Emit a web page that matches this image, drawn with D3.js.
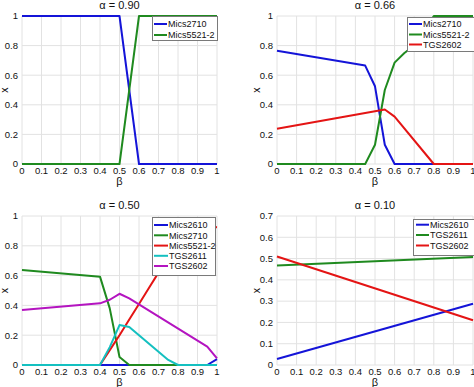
<!DOCTYPE html>
<html><head><meta charset="utf-8">
<script src="https://cdn.jsdelivr.net/npm/d3@7"></script>
<style>body{margin:0;background:#fff}svg{display:block}text{font-family:"Liberation Sans",Arial,sans-serif}</style>
</head><body>
<svg id="c" width="474" height="387"></svg>
<script>
// Panel titles
const titles = ["\u03b1 = 0.90", "\u03b1 = 0.66", "\u03b1 = 0.50", "\u03b1 = 0.10"];
const xTicks = [0,0.1,0.2,0.3,0.4,0.5,0.6,0.7,0.8,0.9,1];
const yTicksA = [0,0.2,0.4,0.6,0.8,1];
const yTicksB = [0,0.1,0.2,0.3,0.4,0.5,0.6,0.7];

// Panel 1 (alpha = 0.90)
const p1_Mics2710_b = [0,0.5,0.6,1];
const p1_Mics2710_x = [1,1,0,0];
const p1_Mics5521_b = [0,0.5,0.6,1];
const p1_Mics5521_x = [0,0,1,1];

// Panel 2 (alpha = 0.66)
const p2_Mics2710_b = [0,0.45,0.5,0.55,0.6,1];
const p2_Mics2710_x = [0.765,0.665,0.525,0.13,0,0];
const p2_Mics5521_b = [0,0.45,0.5,0.55,0.6,0.65,0.7,0.75,0.8,1];
const p2_Mics5521_x = [0,0,0.13,0.5,0.685,0.75,0.8,0.9,1,1];
const p2_TGS2602_b = [0,0.55,0.6,0.8,1];
const p2_TGS2602_x = [0.238,0.368,0.32,0,0];

// Panel 3 (alpha = 0.50)
const p3_Mics2610_b = [0,0.95,1];
const p3_Mics2610_x = [0,0,0.04];
const p3_Mics2710_b = [0,0.4,0.45,0.5,0.55,1];
const p3_Mics2710_x = [0.638,0.593,0.38,0.054,0,0];
const p3_Mics5521_b = [0,0.4,0.45,0.5,0.55,0.6,0.65,0.7,0.75,0.8,0.85,0.9,0.95,1];
const p3_Mics5521_x = [0,0,0.1,0.2,0.305,0.41,0.515,0.62,0.72,0.8,0.87,0.91,0.93,0.925];
const p3_TGS2611_b = [0,0.4,0.45,0.5,0.55,0.75,0.8,1];
const p3_TGS2611_x = [0,0,0.12,0.268,0.255,0.034,0,0];
const p3_TGS2602_b = [0,0.4,0.45,0.5,0.55,0.95,1];
const p3_TGS2602_x = [0.369,0.414,0.438,0.478,0.447,0.123,0.045];

// Panel 4 (alpha = 0.10)
const p4_Mics2610_b = [0,1];
const p4_Mics2610_x = [0.028,0.288];
const p4_TGS2611_b = [0,1];
const p4_TGS2611_x = [0.468,0.507];
const p4_TGS2602_b = [0,1];
const p4_TGS2602_x = [0.51,0.21];

const C = {b:"#1414d8", g:"#1f8a1f", r:"#e41414", c:"#14c0c0", m:"#b414c0"};
const mk = (name, b, x, col) => ({name, pts: b.map((v,i)=>[v, x[i]]), col});

const panels = [
  {title:titles[0], L:22, R:217, T:16, B:164, ymax:1, yt:yTicksA, ylabX:8,
   series:[mk("Mics2710",p1_Mics2710_b,p1_Mics2710_x,C.b), mk("Mics5521-2",p1_Mics5521_b,p1_Mics5521_x,C.g)],
   leg:{x:152, y:16, w:65, h:24, rows:[24,35], lx:154, lw:13}},
  {title:titles[1], L:277, R:473, T:16, B:164, ymax:1, yt:yTicksA, ylabX:260,
   series:[mk("Mics2710",p2_Mics2710_b,p2_Mics2710_x,C.b), mk("Mics5521-2",p2_Mics5521_b,p2_Mics5521_x,C.g), mk("TGS2602",p2_TGS2602_b,p2_TGS2602_x,C.r)],
   leg:{x:407, y:17, w:70, h:34, rows:[24,34.5,44.5], lx:409, lw:13}},
  {title:titles[2], L:22, R:217, T:216, B:365, ymax:1, yt:yTicksA, ylabX:8,
   series:[mk("Mics2610",p3_Mics2610_b,p3_Mics2610_x,C.b), mk("Mics2710",p3_Mics2710_b,p3_Mics2710_x,C.g), mk("Mics5521-2",p3_Mics5521_b,p3_Mics5521_x,C.r), mk("TGS2611",p3_TGS2611_b,p3_TGS2611_x,C.c), mk("TGS2602",p3_TGS2602_b,p3_TGS2602_x,C.m)],
   leg:{x:152, y:217, w:63, h:58, rows:[225,235.3,245.6,255.8,266], lx:154, lw:14}},
  {title:titles[3], L:277, R:473, T:216, B:365, ymax:0.7, yt:yTicksB, ylabX:260,
   series:[mk("Mics2610",p4_Mics2610_b,p4_Mics2610_x,C.b), mk("TGS2611",p4_TGS2611_b,p4_TGS2611_x,C.g), mk("TGS2602",p4_TGS2602_b,p4_TGS2602_x,C.r)],
   leg:{x:413, y:219, w:64, h:36, rows:[224.7,235,245.5], lx:416, lw:13}}
];

const svg = d3.select("#c");
panels.forEach(p => {
  const x = d3.scaleLinear().domain([0,1]).range([p.L,p.R]);
  const y = d3.scaleLinear().domain([0,p.ymax]).range([p.B,p.T]);
  const g = svg.append("g");
  // grid
  g.selectAll(".gx").data(xTicks).join("line")
    .attr("x1",d=>x(d)).attr("x2",d=>x(d)).attr("y1",p.T).attr("y2",p.B)
    .attr("stroke","#e2e2e2").attr("stroke-width",1);
  g.selectAll(".gy").data(p.yt).join("line")
    .attr("y1",d=>y(d)).attr("y2",d=>y(d)).attr("x1",p.L).attr("x2",p.R)
    .attr("stroke","#e2e2e2").attr("stroke-width",1);
  // tick labels
  g.selectAll(".tx").data(xTicks).join("text")
    .attr("x",d=>x(d)).attr("y",p.B+10).attr("text-anchor","middle")
    .attr("font-size",9.5).attr("fill","#111").text(d=>d3.format("")(d));
  g.selectAll(".ty").data(p.yt).join("text")
    .attr("x",p.L-4).attr("y",d=>y(d)+3.3).attr("text-anchor","end")
    .attr("font-size",9.5).attr("fill","#111").text(d=>d3.format("")(d));
  // title and labels
  g.append("text").attr("x",(p.L+p.R)/2).attr("y",p.T-7).attr("text-anchor","middle")
    .attr("font-size",11).attr("fill","#111").text(p.title);
  g.append("text").attr("x",(p.L+p.R)/2).attr("y",p.B+21).attr("text-anchor","middle")
    .attr("font-size",11).attr("fill","#111").text("\u03b2");
  g.append("text").attr("transform",`translate(${p.ylabX},${(p.T+p.B)/2}) rotate(-90)`)
    .attr("text-anchor","middle").attr("font-size",10.5).attr("fill","#111").text("x");
  // lines
  const line = d3.line().x(d=>x(d[0])).y(d=>y(d[1]));
  p.series.forEach(s => {
    g.append("path").attr("d",line(s.pts)).attr("fill","none")
      .attr("stroke",s.col).attr("stroke-width",2).attr("stroke-linejoin","round");
  });
  // legend
  const lg = p.leg;
  g.append("rect").attr("x",lg.x+0.5).attr("y",lg.y+0.5).attr("width",lg.w).attr("height",lg.h)
    .attr("fill","#fff").attr("stroke","#7a7a7a").attr("stroke-width",1);
  p.series.forEach((s,i) => {
    g.append("line").attr("x1",lg.lx).attr("x2",lg.lx+lg.lw).attr("y1",lg.rows[i]).attr("y2",lg.rows[i])
      .attr("stroke",s.col).attr("stroke-width",2);
    g.append("text").attr("x",lg.lx+lg.lw+1).attr("y",lg.rows[i]+3.3)
      .attr("font-size",9).attr("fill","#111").text(s.name);
  });
});
</script>
</body></html>
